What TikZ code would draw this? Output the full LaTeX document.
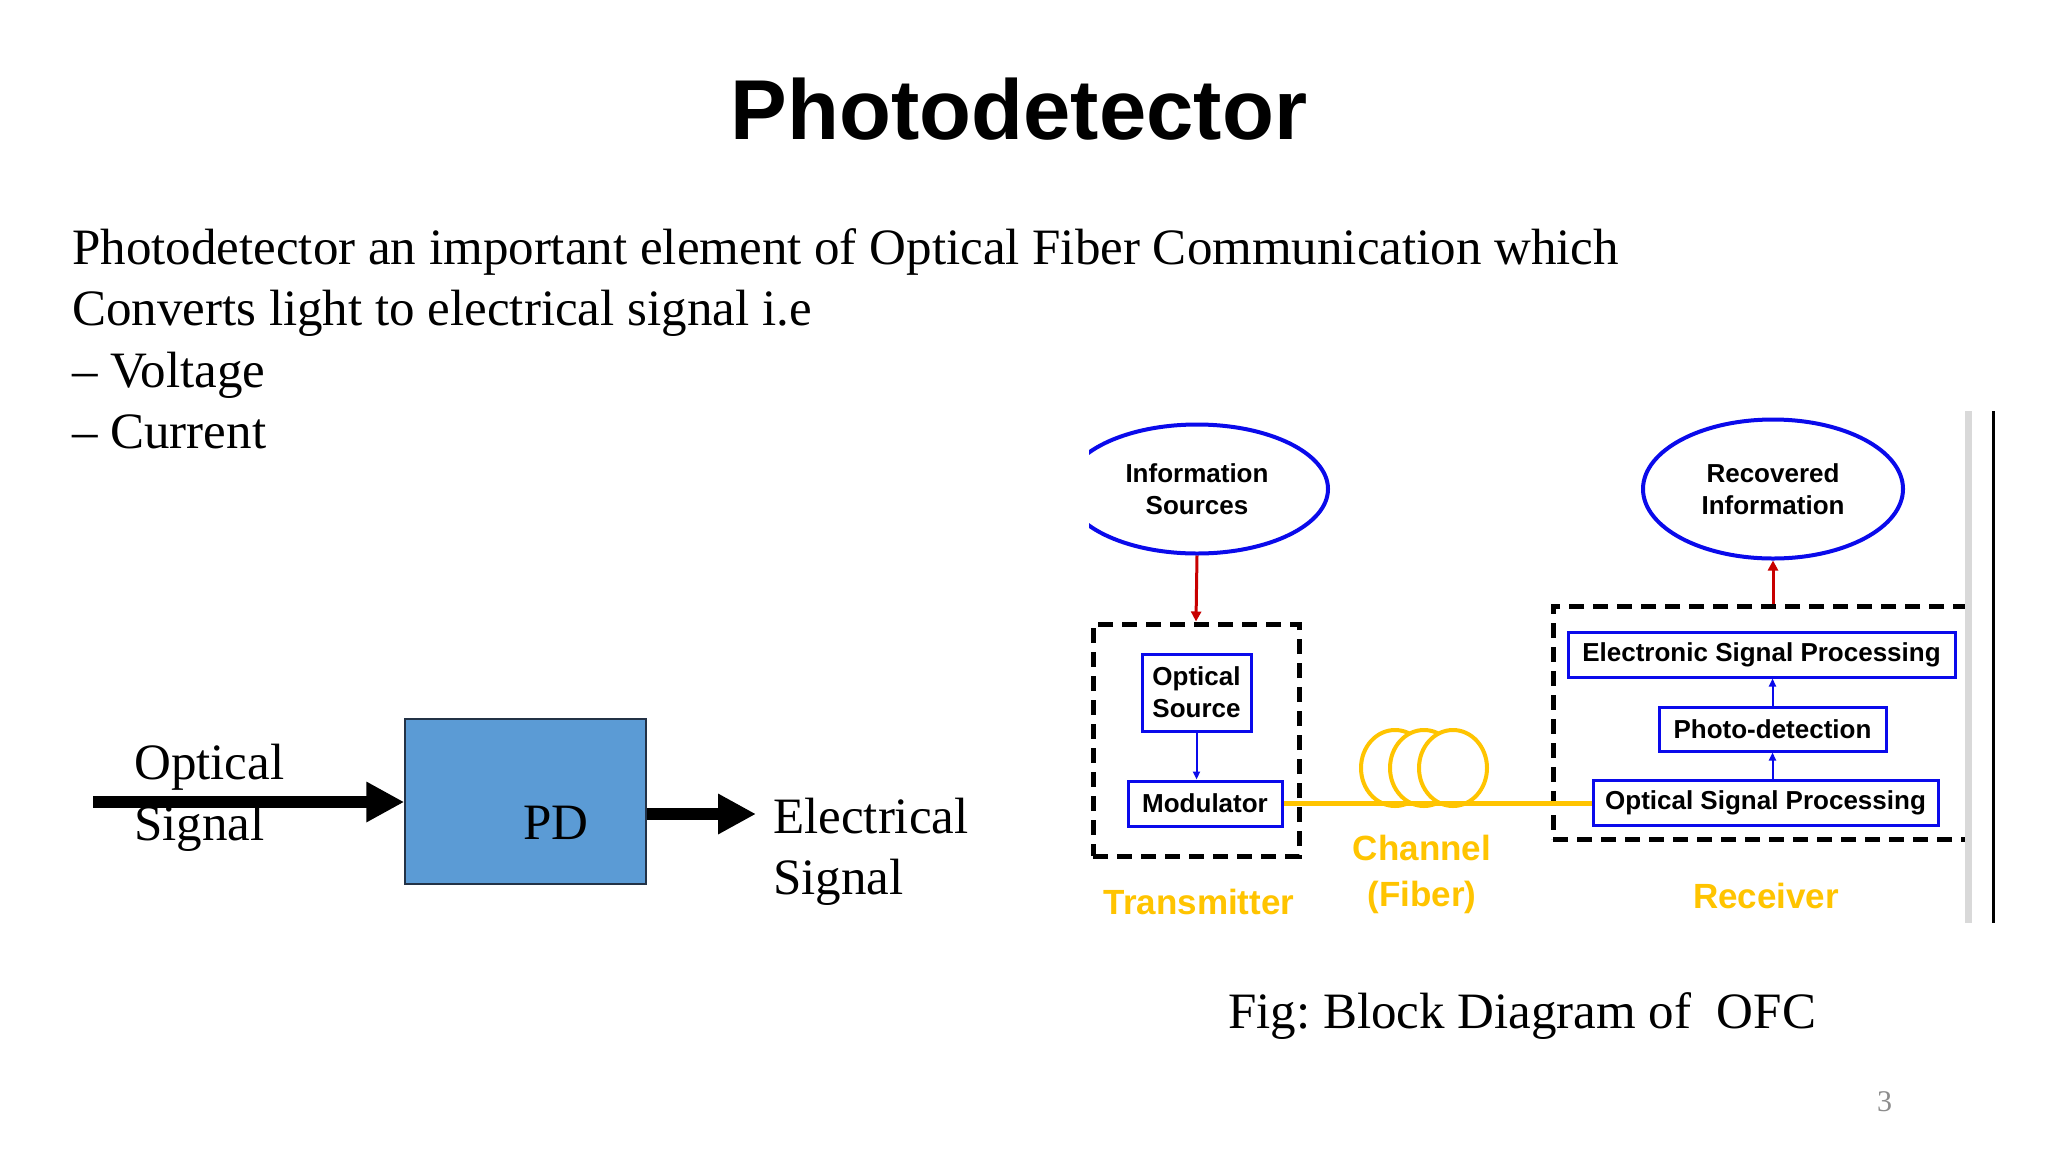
\documentclass[tikz,border=0pt]{standalone}
\usepackage{fontspec}
\setmainfont{Liberation Serif}
\newfontfamily\diagfont{Liberation Sans}
\usepackage{xcolor}
\usetikzlibrary{shapes.geometric, positioning, arrows.meta}
\definecolor{OFBlue}{RGB}{10,10,235}
\definecolor{OFRed}{RGB}{200,0,0}
\definecolor{OFYellow}{RGB}{255,196,0}
\definecolor{PDBlue}{RGB}{91,155,213}
\definecolor{PDEdge}{RGB}{35,50,70}
\frenchspacing

\begin{document}
\begin{tikzpicture}[x=1pt, y=-1pt,
          txt/.style={inner sep=0pt, align=left, font=\fontsize{51}{61.5}\selectfont},
          blk/.style={rectangle, draw=OFBlue, line width=3pt, inner sep=0pt,
                      font=\fontsize{26}{32}\selectfont\diagfont\bfseries},
          ell/.style={ellipse, draw=OFBlue, line width=4pt, inner sep=0pt, align=center,
                      font=\fontsize{26}{32}\selectfont\diagfont\bfseries},
          dbox/.style={rectangle, draw=black, line width=5pt, dash pattern=on 15pt off 9pt},
          lbl/.style={inner sep=0pt, text=OFYellow, align=center,
                      font=\fontsize{35}{46}\selectfont\diagfont\bfseries},
          bigarr/.style={line width=12pt, -{Triangle[length=38pt, width=38pt]}},
          redarr/.style={draw=OFRed, line width=3pt, -{Triangle[length=10pt, width=10pt]}},
          bluarr/.style={draw=OFBlue, line width=2pt, -{Triangle[length=8pt, width=7pt]}}
        ]
        \useasboundingbox[fill=white] (0,0) rectangle (2048,1152);

        % Title and text (base of a multi-line node = its last line)
        \node[inner sep=0pt, anchor=base, font=\fontsize{85}{100}\selectfont\diagfont\bfseries]
              (title) at (1019,139) {Photodetector};
        \node[txt, anchor=base west] (intro) at (72,448.5)
              {Photodetector an important element of Optical Fiber Communication which\\
               Converts light to electrical signal i.e\\
               -- Voltage\\
               -- Current};

        % Photodetector block
        \node[rectangle, fill=PDBlue, draw=PDEdge, line width=1.5pt,
              minimum width=241pt, minimum height=165pt] (pd) at (525.5,801.5) {};
        \node[txt, anchor=base] (pdtxt) at (556,839) {PD};
        \node[txt, anchor=base west] (optlbl) at (134,840.5) {Optical\\Signal};
        \node[txt, anchor=base west] (ellbl) at (773,894.5) {Electrical\\Signal};
        \coordinate (optin) at (93,802);
        \coordinate (elout) at (756,814);
        \draw[bigarr] (optin) -- (pd.west |- optin);
        \draw[bigarr] (pd.east |- elout) -- (elout);

        % Sources
        \begin{scope}
          \clip (1089,400) rectangle (1400,600);
          \node[ell, minimum width=262pt, minimum height=129pt]
                (infosrc) at (1197,489) {Information\\Sources};
        \end{scope}
        \node[ell, minimum width=260pt, minimum height=139pt]
              (recinfo) at (1773,489) {Recovered\\Information};

        % Transmitter
        \node[dbox, minimum width=206pt, minimum height=232pt] (txbox) at (1196,740) {};
        \node[blk, align=left, minimum width=109pt, minimum height=77pt]
              (optsrc) at (1196.5,692.5) {Optical\\Source};
        \node[blk, minimum width=154pt, minimum height=45pt] (modul) at (1205,803.5) {Modulator};

        % Receiver
        \node[dbox, minimum width=415pt, minimum height=233pt] (rxbox) at (1760.5,722.5) {};
        \node[blk, minimum width=387pt, minimum height=45pt]
              (esp) at (1761.5,654.5) {Electronic Signal Processing};
        \node[blk, minimum width=227pt, minimum height=44pt]
              (phdet) at (1772.5,729) {Photo-detection};
        \node[blk, minimum width=345pt, minimum height=45pt]
              (osp) at (1765.5,802.5) {Optical Signal Processing};

        % Channel
        \foreach \cx in {1395,1424,1453}
          \draw[OFYellow, line width=4pt, fill=white] (\cx,768) ellipse [x radius=34pt, y radius=38pt];
        \draw[OFYellow, line width=5pt] (modul.east) -- (modul.east -| osp.west);

        \draw[redarr] (infosrc.south) -- (txbox.north);
        \draw[redarr] (recinfo.south |- rxbox.north) -- (recinfo.south);
        \draw[bluarr] (optsrc.south) -- (optsrc.south |- modul.north);
        \draw[bluarr] (phdet.south |- osp.north) -- (phdet.south);
        \draw[bluarr] (phdet.north) -- (phdet.north |- esp.south);

        \node[lbl, anchor=base] (txlbl) at (1199,914) {Transmitter};
        \node[lbl, anchor=base] (chlbl) at (1422,906) {Channel\\(Fiber)};
        \node[lbl, anchor=base] (rxlbl) at (1766,908) {Receiver};

        % Frame lines
        \fill[black!15] (1965,411) rectangle (1972,923);
        \draw[line width=3pt] (1993,411) -- (1993,923);

        % Caption
        \node[txt, anchor=base west] (caption) at (1228,1028) {Fig: Block Diagram of \ OFC};
        \node[inner sep=0pt, anchor=base west, text=black!45, font=\fontsize{30}{36}\selectfont]
              (pgno) at (1877,1111) {3};
      \end{tikzpicture}
\end{document}
